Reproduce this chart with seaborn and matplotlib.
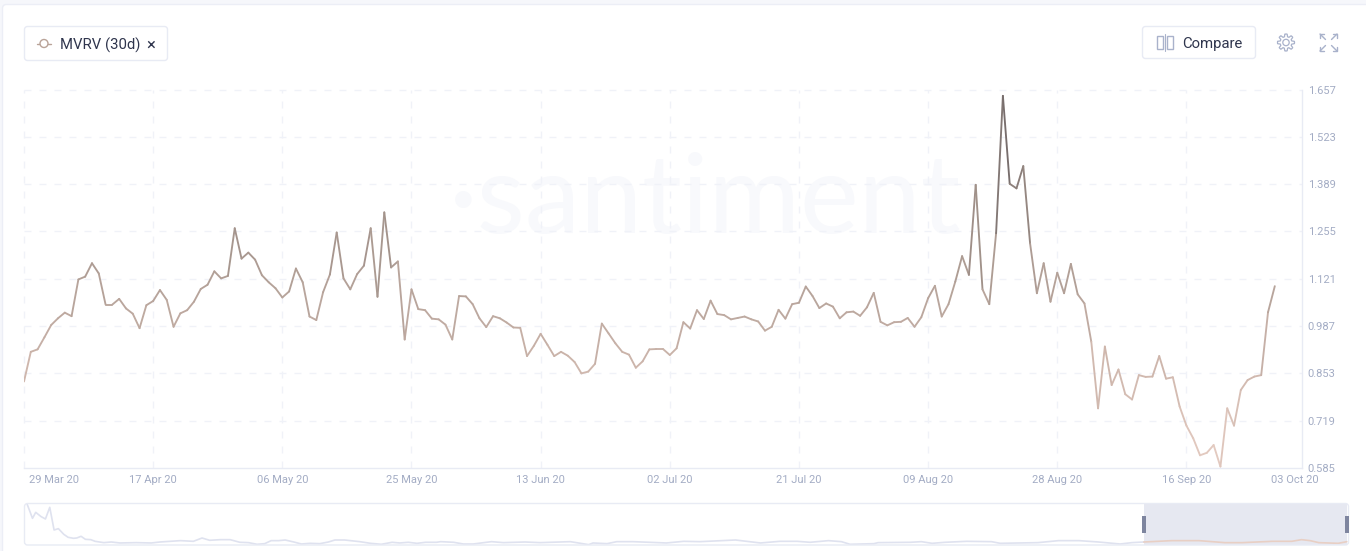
import matplotlib
matplotlib.use("Agg")

import matplotlib.pyplot as plt
import numpy as np
import pandas as pd
import seaborn as sns
from matplotlib.colors import LinearSegmentedColormap
from matplotlib.patches import Circle, FancyBboxPatch, Rectangle
from matplotlib.transforms import ScaledTranslation

# daily MVRV (30d) from 29 Mar 20 on
mvrv = [
    0.830, 0.914, 0.921, 0.955, 0.990, 1.009, 1.025, 1.015, 1.119, 1.127,
    1.165, 1.136, 1.048, 1.048, 1.064, 1.037, 1.022, 0.981, 1.046, 1.058,
    1.089, 1.061, 0.985, 1.023, 1.032, 1.056, 1.092, 1.104, 1.142, 1.122,
    1.129, 1.264, 1.178, 1.195, 1.175, 1.131, 1.111, 1.094, 1.068, 1.085,
    1.150, 1.111, 1.014, 1.004, 1.083, 1.133, 1.252, 1.122, 1.091, 1.134,
    1.158, 1.264, 1.070, 1.309, 1.153, 1.170, 0.949, 1.091, 1.035, 1.032,
    1.008, 1.006, 0.991, 0.949, 1.072, 1.071, 1.049, 1.009, 0.984, 1.015,
    1.009, 0.997, 0.983, 0.982, 0.902, 0.931, 0.965, 0.934, 0.902, 0.914,
    0.903, 0.885, 0.853, 0.858, 0.880, 0.994, 0.966, 0.938, 0.914, 0.906,
    0.869, 0.887, 0.921, 0.922, 0.922, 0.905, 0.924, 0.998, 0.980, 1.032,
    1.007, 1.059, 1.021, 1.018, 1.006, 1.010, 1.014, 1.006, 1.000, 0.974,
    0.985, 1.033, 1.008, 1.049, 1.053, 1.099, 1.072, 1.038, 1.051, 1.042,
    1.009, 1.026, 1.028, 1.016, 1.040, 1.081, 0.999, 0.989, 0.998, 0.999,
    1.010, 0.985, 1.012, 1.066, 1.101, 1.014, 1.049, 1.113, 1.185, 1.132,
    1.387, 1.091, 1.049, 1.250, 1.639, 1.390, 1.377, 1.440, 1.221, 1.080,
    1.165, 1.056, 1.138, 1.080, 1.163, 1.077, 1.051, 0.943, 0.754, 0.929,
    0.820, 0.864, 0.794, 0.779, 0.848, 0.843, 0.844, 0.902, 0.838, 0.842,
    0.759, 0.705, 0.669, 0.621, 0.628, 0.650, 0.589, 0.754, 0.705, 0.806,
    0.834, 0.844, 0.848, 1.026, 1.100,
]
y_ticks = [0.585, 0.719, 0.853, 0.987, 1.121, 1.255, 1.389, 1.523, 1.657]
x_tick_dates = [
    "2020-03-29", "2020-04-17", "2020-05-06", "2020-05-25", "2020-06-13",
    "2020-07-02", "2020-07-21", "2020-08-09", "2020-08-28", "2020-09-16",
    "2020-10-03",
]
x_tick_labels = [
    "29 Mar 20", "17 Apr 20", "06 May 20", "25 May 20", "13 Jun 20",
    "02 Jul 20", "21 Jul 20", "09 Aug 20", "28 Aug 20", "16 Sep 20",
    "03 Oct 20",
]

# whole history for the navigator strip
nav_days = [
    1, 6, 9, 14, 18, 22, 26, 30, 35, 39, 44, 47, 51, 55, 60, 64, 72, 79, 87,
    102, 116, 124, 143, 155, 163, 170, 180, 189, 198, 206, 214, 221, 227, 234,
    240, 248, 255, 263, 272, 280, 286, 295, 309, 319, 329, 339, 346, 354, 362,
    370, 380, 384, 396, 405, 414, 431, 442, 462, 476, 504, 521, 525, 538, 547,
    562, 593, 609, 624, 657, 680, 698, 714, 726, 743, 755, 763, 785, 789, 819,
    829, 839, 851, 871, 894, 902, 937, 956, 975, 993, 1013, 1024, 1035, 1061,
    1086, 1110, 1126, 1154, 1172, 1181, 1189, 1197, 1215, 1223,
]
nav_values = [
    10.0, 6.63, 8.04, 7.03, 6.48, 9.22, 3.89, 4.21, 2.87, 2.17, 1.94, 2.01,
    2.41, 1.70, 1.62, 1.23, 0.92, 1.07, 0.84, 0.92, 0.84, 1.07, 1.39, 1.23,
    2.01, 1.47, 1.62, 1.62, 1.00, 0.92, 0.53, 0.68, 1.39, 1.39, 1.54, 1.07,
    0.60, 0.76, 0.68, 1.07, 1.54, 1.54, 1.15, 0.76, 0.53, 1.00, 0.84, 1.00,
    0.76, 1.00, 1.00, 1.15, 1.00, 0.60, 0.60, 1.15, 0.92, 1.07, 0.92, 1.15,
    0.45, 0.84, 0.68, 1.15, 1.15, 0.84, 1.23, 1.15, 1.54, 0.84, 1.23, 1.23,
    1.00, 1.39, 1.15, 0.53, 0.68, 0.92, 1.00, 1.15, 0.76, 1.00, 1.23, 1.15,
    0.76, 0.92, 1.39, 1.39, 1.07, 0.60, 0.92, 1.07, 1.39, 1.39, 0.92, 0.92,
    1.23, 1.23, 1.62, 1.39, 0.92, 0.76, 1.15,
]
nav_selection_start = 1035

FONT = "Roboto"
TICK_COLOR = "#a3acc4"
GRID_COLOR = "#f0f2f8"
BORDER_COLOR = "#e8ebf4"
TEXT_COLOR = "#2f354d"
ICON_COLOR = "#a9b2cb"


def pixel_axes(fig, left, top, right, bottom):
    """Axes placed by pixel edges, measured from the top left of the figure."""
    w, h = fig.get_size_inches() * fig.dpi
    return fig.add_axes([left / w, 1 - bottom / h, (right - left) / w, (bottom - top) / h])


def draw_chrome(ax):
    ax.set_xlim(0, 1366)
    ax.set_ylim(551, 0)
    ax.axis("off")

    ax.add_patch(Rectangle((0, 0), 1366, 551, fc="#f6f7fb", ec="none"))
    ax.add_patch(FancyBboxPatch((2.5, 4.5), 1400, 600, boxstyle="round,pad=0,rounding_size=4",
                                fc="white", ec="#eceef6", lw=1))
    ax.text(449, 202, "·santiment", fontsize=80, family="Lato", color="#f8f9fc",
            ha="left", va="center")

    # metric chip
    ax.add_patch(FancyBboxPatch((24.5, 26.5), 143, 34, boxstyle="round,pad=0,rounding_size=3",
                                fc="white", ec=BORDER_COLOR, lw=1))
    ax.plot([37, 51], [43.5, 43.5], color="#b9a398", lw=1)
    ax.add_patch(Circle((44, 43.5), 4, fc="white", ec="#b9a398", lw=1, zorder=3))
    ax.text(60, 43.5, "MVRV (30d)", fontsize=10.7, family=FONT, color=TEXT_COLOR, va="center_baseline")
    ax.text(150.5, 43.5, "×", fontsize=12, family=FONT, color=TEXT_COLOR, ha="center", va="center_baseline")

    # compare button
    ax.add_patch(FancyBboxPatch((1142.5, 26.5), 113, 32, boxstyle="round,pad=0,rounding_size=3",
                                fc="white", ec=BORDER_COLOR, lw=1))
    ax.add_patch(Rectangle((1156.5, 36), 6, 13, fc="none", ec=ICON_COLOR, lw=1))
    ax.add_patch(Rectangle((1167, 36), 5.5, 13, fc="none", ec=ICON_COLOR, lw=1))
    ax.plot([1164.5, 1164.5], [34, 51], color=ICON_COLOR, lw=0.8)
    ax.text(1182, 42.5, "Compare", fontsize=10.7, family=FONT, color=TEXT_COLOR, va="center_baseline")

    # settings gear
    angle = np.linspace(0, 2 * np.pi, 160)
    radius = 7.2 + 1.3 * np.clip(2.2 * np.cos(8 * angle), -1, 1)
    ax.plot(1286 + radius * np.cos(angle), 42.5 + radius * np.sin(angle), color=ICON_COLOR, lw=0.9)
    ax.add_patch(Circle((1286, 42.5), 3.2, fc="none", ec=ICON_COLOR, lw=0.9))

    # fullscreen arrows
    for sx, sy in [(-1, -1), (1, -1), (-1, 1), (1, 1)]:
        cx, cy = 1328.5 + sx * 3, 42.5 + sy * 3
        tip_x, tip_y = cx + sx * 5.5, cy + sy * 5.5
        ax.plot([cx, tip_x], [cy, tip_y], color=ICON_COLOR, lw=1)
        ax.plot([tip_x - sx * 4, tip_x, tip_x], [tip_y, tip_y, tip_y - sy * 4], color=ICON_COLOR, lw=1)


def draw_main(ax, dates, cmap):
    # one two-point segment per day so the colour can follow the value
    segments = pd.DataFrame(
        {
            "date": np.ravel(np.column_stack([dates[:-1], dates[1:]])),
            "mvrv": np.ravel(np.column_stack([mvrv[:-1], mvrv[1:]])),
            "segment": np.repeat(np.arange(len(mvrv) - 1), 2),
        }
    )
    means = segments.groupby("segment")["mvrv"].mean()
    palette = {seg: cmap((val - y_ticks[0]) / (y_ticks[-1] - y_ticks[0])) for seg, val in means.items()}
    sns.lineplot(data=segments, x="date", y="mvrv", hue="segment", palette=palette, estimator=None,
                 sort=False, legend=False, linewidth=1.35, solid_capstyle="round", ax=ax)

    ticks = pd.to_datetime(x_tick_dates)
    ax.set_xlim(ticks[0], ticks[-1])
    ax.set_ylim(y_ticks[0], y_ticks[-1])
    ax.set_xticks(ticks)
    ax.set_xticklabels(x_tick_labels)
    ax.set_yticks(y_ticks)
    ax.set_yticklabels([f"{tick:.3f}" for tick in y_ticks])
    ax.yaxis.tick_right()
    ax.set_xlabel("")
    ax.set_ylabel("")
    ax.patch.set_visible(False)

    ax.grid(True, color=GRID_COLOR, lw=1, linestyle=(0, (5, 5.8)))
    ax.set_axisbelow(True)
    for line in ax.get_xgridlines() + ax.get_ygridlines():
        line.set_clip_on(False)
    ax.get_xgridlines()[-1].set_visible(False)
    ax.get_ygridlines()[0].set_visible(False)

    for side in ["top", "left"]:
        ax.spines[side].set_visible(False)
    for side in ["right", "bottom"]:
        ax.spines[side].set_visible(True)
        ax.spines[side].set_color(BORDER_COLOR)
        ax.spines[side].set_linewidth(1)

    ax.tick_params(axis="both", length=0, labelcolor=TICK_COLOR, labelsize=8)
    ax.tick_params(axis="x", pad=5)
    ax.tick_params(axis="y", pad=4)
    for label in ax.get_xticklabels() + ax.get_yticklabels():
        label.set_family(FONT)

    fig = ax.figure
    labels = ax.get_xticklabels()
    labels[0].set_ha("left")
    labels[0].set_transform(labels[0].get_transform() + ScaledTranslation(5 / fig.dpi, 0, fig.dpi_scale_trans))
    labels[-1].set_ha("right")
    labels[-1].set_transform(labels[-1].get_transform() + ScaledTranslation(17 / fig.dpi, 0, fig.dpi_scale_trans))


def draw_navigator(ax):
    ax.set_xlim(-1.85, 1225)
    ax.set_ylim(0.365, 10.235)
    ax.axvspan(nav_selection_start, 1223, color="#e6e8f1", lw=0, zorder=1)

    history = pd.DataFrame({"day": nav_days, "value": nav_values})
    before = history[history["day"] <= nav_selection_start].assign(part="before")
    after = history[history["day"] >= nav_selection_start].assign(part="selected")
    sns.lineplot(data=pd.concat([before, after]), x="day", y="value", hue="part",
                 palette={"before": "#dfe2ef", "selected": "#e8cfc4"}, estimator=None,
                 legend=False, linewidth=1.2, ax=ax, zorder=2)

    ax.set_xticks([])
    ax.set_yticks([])
    ax.set_xlabel("")
    ax.set_ylabel("")
    ax.patch.set_visible(False)
    for spine in ax.spines.values():
        spine.set_visible(False)


def draw_nav_frame(ax):
    ax.add_patch(FancyBboxPatch((24.5, 503.5), 1324, 41.5, boxstyle="round,pad=0,rounding_size=3",
                                fc="none", ec=BORDER_COLOR, lw=1))
    for x in [1141.5, 1344.5]:
        ax.add_patch(Rectangle((x, 516), 4.5, 17, fc="#7e859f", ec="none", zorder=5))


def main():
    sns.set_theme(style="white")
    plt.rcParams["font.family"] = [FONT, "DejaVu Sans"]

    fig = plt.figure(figsize=(13.66, 5.51), dpi=100, facecolor="white")

    chrome = pixel_axes(fig, 0, 0, 1366, 551)
    draw_chrome(chrome)

    dates = pd.date_range(x_tick_dates[0], periods=len(mvrv), freq="D")
    cmap = LinearSegmentedColormap.from_list(
        "mvrv", ["#e6cdc3", "#d0b8ae", "#b2a097", "#8d807b", "#5f5a5e"]
    )
    draw_main(pixel_axes(fig, 24, 89.5, 1302, 468), dates, cmap)
    draw_navigator(pixel_axes(fig, 24, 503, 1349, 545))

    frame = pixel_axes(fig, 0, 0, 1366, 551)
    frame.set_xlim(0, 1366)
    frame.set_ylim(551, 0)
    frame.axis("off")
    draw_nav_frame(frame)

    fig.savefig("out.png", dpi=100, facecolor="white")
    plt.close(fig)


if __name__ == "__main__":
    main()
